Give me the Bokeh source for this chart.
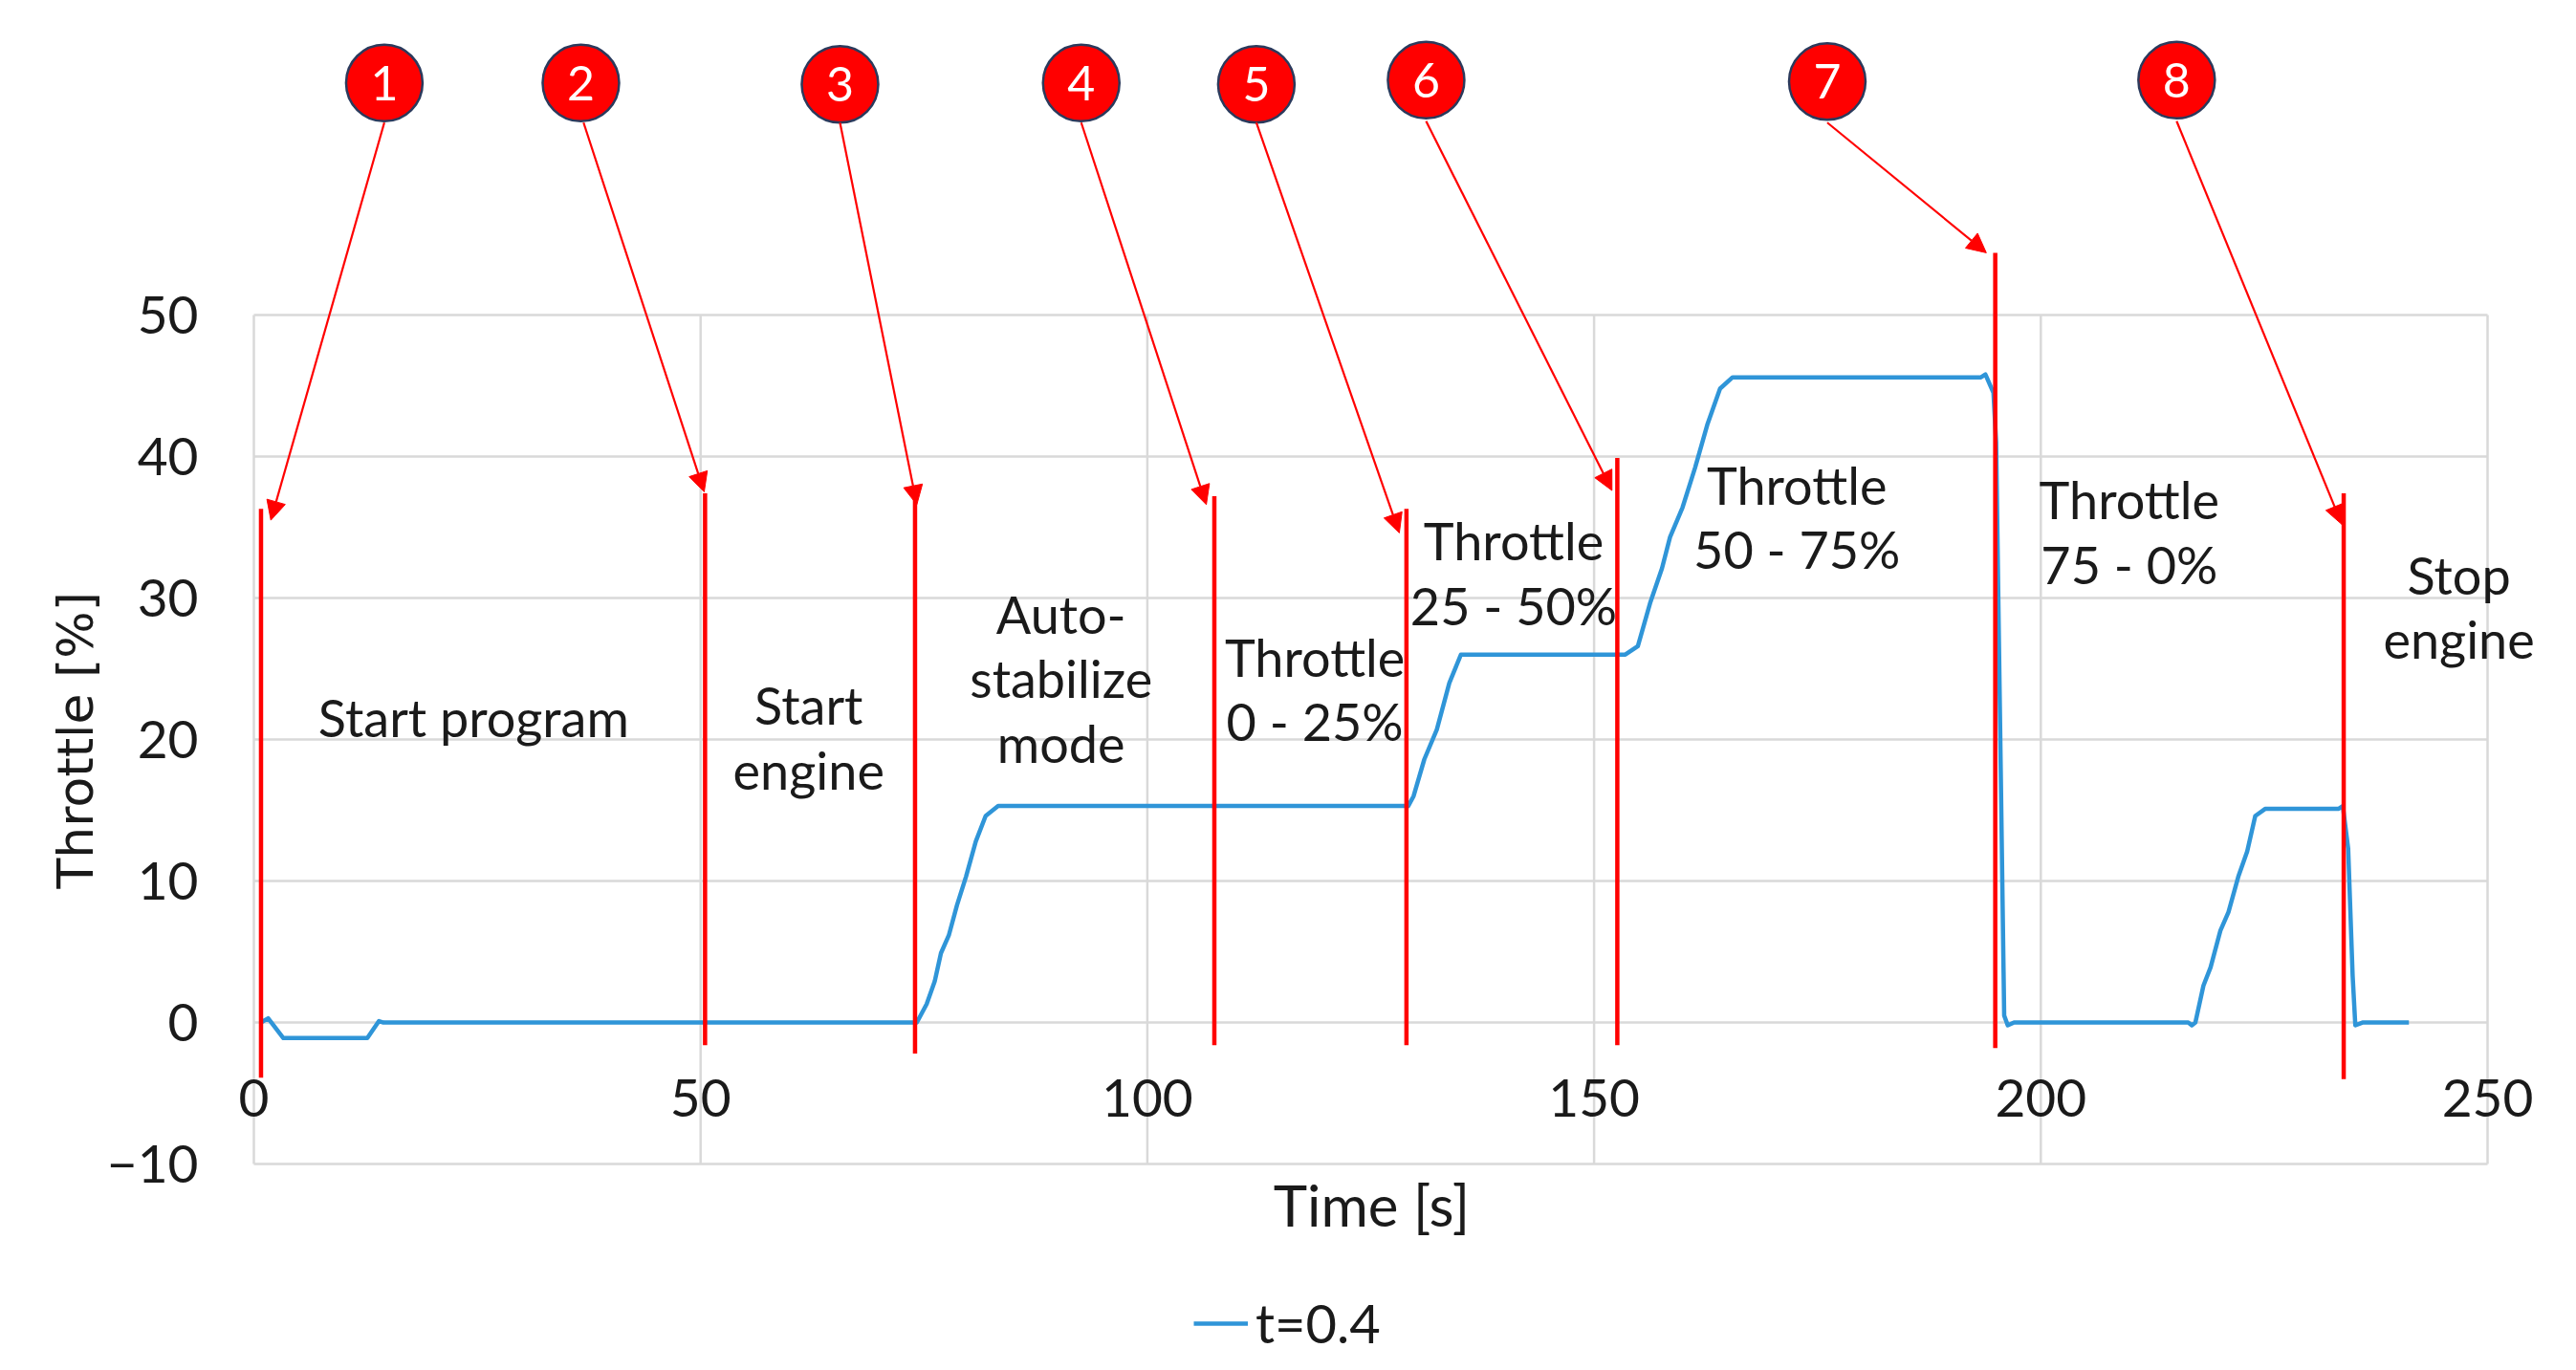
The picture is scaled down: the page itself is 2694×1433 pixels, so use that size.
import math
from bokeh.plotting import figure
from bokeh.models import Range1d, FixedTicker, ColumnDataSource, Arrow, NormalHead, Label
from bokeh.core.properties import value
from bokeh.embed import file_html
from bokeh.resources import INLINE

# ---- data ----
time_s = [0.8, 1.6, 3.3, 12.7, 14.0, 14.5,
          74.2, 75.3, 76.2, 76.9, 77.8, 78.7, 79.7, 80.8, 81.9, 83.3,
          129.2, 129.8, 131.0, 132.4, 133.8, 135.1,
          153.5, 154.9, 156.3, 157.6, 158.5, 159.9, 161.3, 162.7, 164.1, 165.5,
          193.3, 193.8, 194.7, 195.0, 195.9, 196.3, 197.0,
          216.5, 216.9, 217.3, 218.2, 219.0, 220.1, 221.0, 222.1, 223.1, 224.0, 225.1,
          233.3, 233.8, 234.4, 234.9, 235.2, 236.0, 241.2]
throttle = [0.0, 0.3, -1.1, -1.1, 0.1, 0.0,
            0.0, 1.3, 2.9, 4.9, 6.2, 8.3, 10.3, 12.8, 14.6, 15.3,
            15.3, 16.0, 18.6, 20.7, 24.0, 26.0,
            26.0, 26.6, 29.7, 32.1, 34.3, 36.4, 39.2, 42.3, 44.8, 45.6,
            45.6, 45.8, 44.5, 41.0, 0.5, -0.2, 0.0,
            0.0, -0.2, 0.0, 2.6, 3.9, 6.5, 7.8, 10.3, 12.1, 14.6, 15.1,
            15.1, 15.3, 12.3, 3.3, -0.2, 0.0, 0.0]

event_t = [0.8, 50.5, 74.0, 107.5, 129.0, 152.6, 194.9, 233.9]
event_top = [36.3, 37.4, 37.0, 37.2, 36.3, 39.9, 54.4, 37.4]
event_bottom = [-3.9, -1.6, -2.2, -1.6, -1.6, -1.6, -1.8, -4.0]

marker_t = [14.6, 36.6, 65.6, 92.6, 112.2, 131.2, 176.1, 215.2]
marker_v = [66.4, 66.4, 66.3, 66.4, 66.3, 66.6, 66.5, 66.6]
marker_text = ["1", "2", "3", "4", "5", "6", "7", "8"]

arrow_start_t = [14.6, 36.9, 65.6, 92.6, 112.2, 131.2, 176.1, 215.2]
arrow_start_v = [63.6, 63.6, 63.6, 63.6, 63.6, 63.7, 63.6, 63.7]
arrow_end_t = [1.9, 50.4, 74.2, 106.6, 128.2, 152.0, 193.9, 233.7]
arrow_end_v = [35.5, 37.5, 36.6, 36.6, 34.6, 37.6, 54.4, 35.2]

phase_t = [24.6, 62.1, 90.35, 118.75, 141.0, 172.7, 209.9, 246.8]
phase_v = [21.55, 20.15, 24.3, 23.55, 31.75, 35.7, 34.65, 29.35]
phase_text = ["Start program", "Start\nengine", "Auto-\nstabilize\nmode",
              "Throttle\n0 - 25%", "Throttle\n25 - 50%", "Throttle\n50 - 75%",
              "Throttle\n75 - 0%", "Stop\nengine"]

x_ticks = [0, 50, 100, 150, 200, 250]
y_ticks = [-10, 0, 10, 20, 30, 40, 50]

FONT = "Lato"
TXT = "#1a1a1a"

p = figure(width=2678, height=1417, output_backend="svg", toolbar_location=None,
           x_range=Range1d(-28.36, 258.24), y_range=Range1d(-23.51, 72.23),
           min_border_left=0, min_border_right=0, min_border_top=0, min_border_bottom=0)
p.outline_line_color = None
p.xgrid.visible = False
p.ygrid.visible = False
p.background_fill_color = "white"

# gridlines (plot box)
p.segment(x0=[x_ticks[0]] * len(y_ticks), x1=[x_ticks[-1]] * len(y_ticks), y0=y_ticks, y1=y_ticks,
          line_color="#d9d9d9", line_width=2.5)
p.segment(x0=x_ticks, x1=x_ticks, y0=[y_ticks[0]] * len(x_ticks), y1=[y_ticks[-1]] * len(x_ticks),
          line_color="#d9d9d9", line_width=2.5)

# axes
ya = p.yaxis[0]
ya.fixed_location = 0
ya.ticker = FixedTicker(ticks=y_ticks)
ya.major_label_overrides = {-10: "\u221210"}
ya.axis_line_color = None
ya.major_tick_line_color = None
ya.minor_tick_line_color = None
ya.major_tick_out = 0
ya.major_tick_in = 0
ya.major_label_standoff = 58
ya.major_label_text_font = FONT
ya.major_label_text_font_size = "55px"
ya.major_label_text_color = TXT

xa = p.xaxis[0]
xa.fixed_location = 0
xa.ticker = FixedTicker(ticks=x_ticks)
xa.axis_line_color = None
xa.major_tick_line_color = None
xa.minor_tick_line_color = None
xa.major_tick_out = 0
xa.major_tick_in = 0
xa.major_label_standoff = 59
xa.major_label_text_font = FONT
xa.major_label_text_font_size = "55px"
xa.major_label_text_color = TXT

# series
p.line(time_s, throttle, line_color="#2f95d8", line_width=4.5, line_join="round",
       legend_label="t=0.4")

# event lines
p.segment(x0=event_t, x1=event_t, y0=event_bottom, y1=event_top, line_color="#ff0000", line_width=4.5)

# arrows
asrc = ColumnDataSource(dict(xs=arrow_start_t, ys=arrow_start_v, xe=arrow_end_t, ye=arrow_end_v))
p.add_layout(Arrow(x_start="xs", y_start="ys", x_end="xe", y_end="ye", source=asrc,
                   line_color="#ff0000", line_width=2.2,
                   end=NormalHead(size=20, fill_color="#ff0000", line_color="#ff0000", line_width=1)))

# numbered markers
p.scatter(marker_t, marker_v, size=80, fill_color="#ff0000", line_color="#2b3a5c", line_width=2.5)
p.text(marker_t, marker_v, text=marker_text, text_color="white", text_font=value(FONT),
       text_font_size="50px", text_align="center", text_baseline="middle")

# phase labels
p.text(phase_t, phase_v, text=phase_text, text_color=TXT, text_font=value(FONT),
       text_font_size="54px", text_align="center", text_baseline="middle", text_line_height=1.04)

# axis titles
p.text([125.1], [-12.9], text=["Time [s]"], text_color=TXT, text_font=value(FONT),
       text_font_size="60px", text_align="center", text_baseline="middle")
p.add_layout(Label(x=-20.0, y=19.95, text="Throttle [%]", angle=math.pi / 2,
                   text_font="DejaVu Sans", text_font_size="52px", text_color=TXT,
                   text_align="center", text_baseline="middle"))

# legend
lg = p.legend[0]
lg.location = (1248, 0)
lg.padding = 0
lg.margin = 0
lg.spacing = 0
lg.border_line_alpha = 0
lg.background_fill_alpha = 0
lg.glyph_width = 57
lg.glyph_height = 60
lg.label_standoff = 8
lg.label_text_font = FONT
lg.label_text_font_size = "56px"
lg.label_text_color = TXT

open("out.html", "w").write(file_html(p, INLINE))
